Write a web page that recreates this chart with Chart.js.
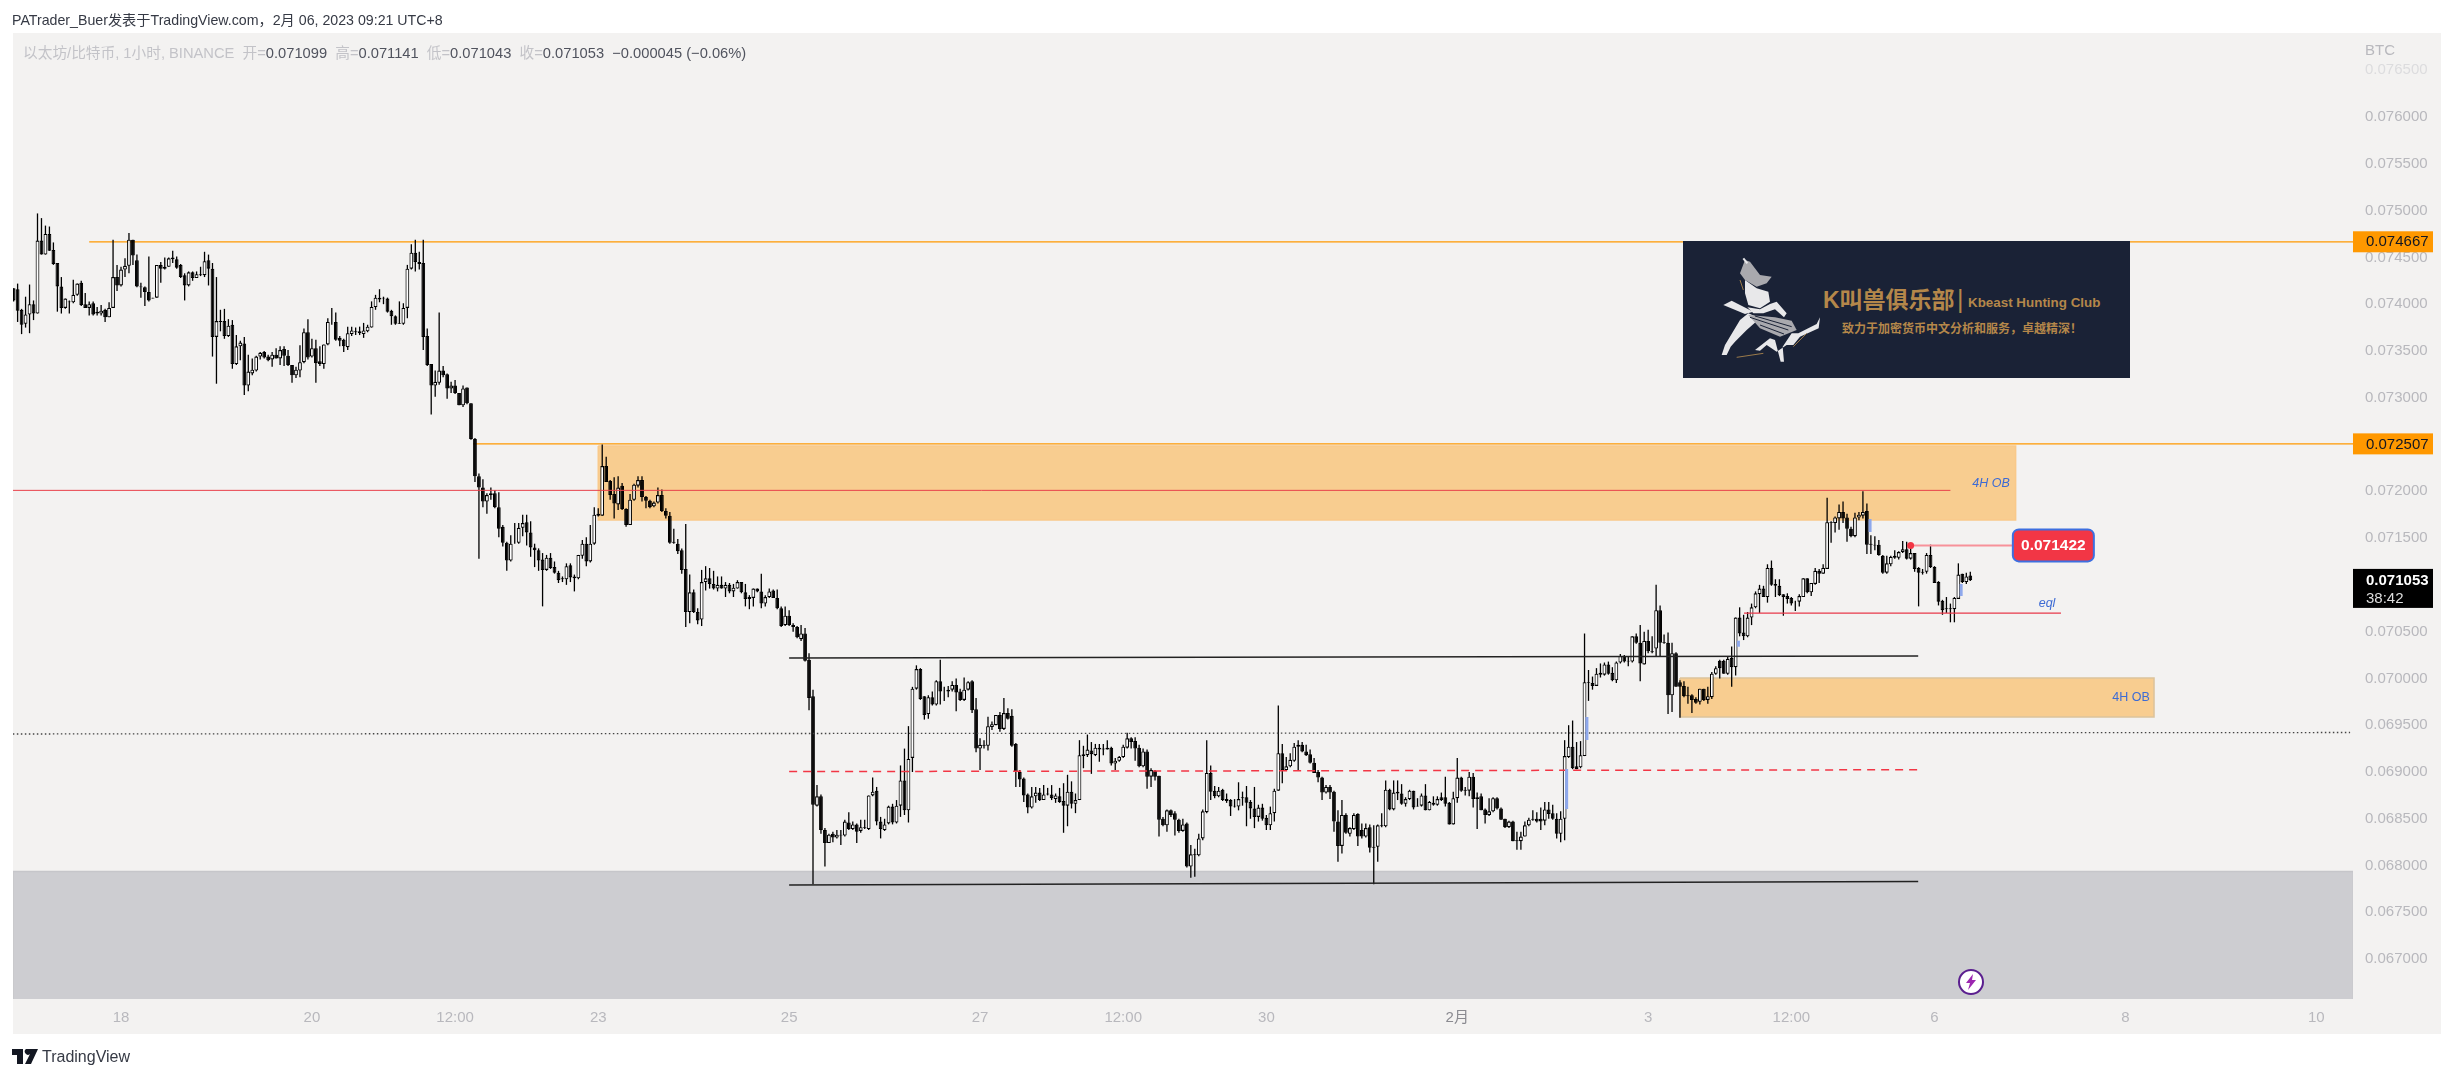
<!DOCTYPE html>
<html lang="zh"><head><meta charset="utf-8"><title>ETHBTC</title>
<script src="https://cdn.jsdelivr.net/npm/chart.js@4/dist/chart.umd.min.js"></script>
<style>
html,body{margin:0;padding:0;background:#fff;width:2453px;height:1078px;overflow:hidden;font-family:"Liberation Sans","Noto Sans CJK SC",sans-serif}
canvas{position:absolute;left:0;top:0}
.t{position:absolute;white-space:pre;line-height:1}
#banner{position:absolute;left:1683px;top:241px;width:447px;height:137px;background:#1a2236;color:#b4874a;font-weight:700}
#banner div{position:absolute;white-space:pre;line-height:1}
</style></head><body>
<canvas id="c" width="2453" height="1078"></canvas>
<div class="t" style="left:12px;top:12.5px;font-size:14.2px;color:#363a45">PATrader_Buer发表于TradingView.com，2月 06, 2023 09:21 UTC+8</div>
<div class="t" style="left:23px;top:46px;font-size:14.7px;color:#c3c3c8">以太坊/比特币, 1小时, BINANCE  开=<span style="color:#50535e">0.071099</span>  高=<span style="color:#50535e">0.071141</span>  低=<span style="color:#50535e">0.071043</span>  收=<span style="color:#50535e">0.071053</span>  <span style="color:#50535e">−0.000045 (−0.06%)</span></div>
<div id="banner">
<svg width="447" height="137" viewBox="69 33 1341 411" style="position:absolute;left:0;top:0">
<g fill="#e8e8ea">
<polygon points="255,150 290,175 325,185 330,215 300,235 265,225 255,190"/>
<polygon points="262,232 300,238 330,222 350,215 380,250 372,262 345,238 310,250 280,250"/>
<polygon points="195,345 240,270 265,250 300,265 260,300 225,335 212,350 200,375 185,375"/>
<polygon points="285,360 330,325 345,330 362,395 372,395 368,350 395,310 415,310 470,282 480,262 476,295 420,320 400,345 380,345 350,365 320,345 300,362"/>
<polygon points="190,225 215,212 280,245 255,252"/>
</g>
<g fill="#a9a9ae">
<polygon points="240,130 255,90 270,95 300,135 335,140 320,160 290,170 255,150"/>
<polygon points="265,255 345,262 395,272 410,300 360,320 300,295"/>
</g>
<g stroke="#1a2236" stroke-width="3" fill="none"><path d="M270 262 L385 300 M285 258 L395 290 M300 285 L372 312"/></g>
<g stroke="#9a7a4a" stroke-width="3" fill="none"><path d="M230 382 L310 370 M240 150 L250 180 M400 350 L440 310"/></g>
<path d="M250 85 L262 100" stroke="#e8e8ea" stroke-width="6"/>
</svg>
<div style="left:140px;top:48px;font-size:23px">K叫兽俱乐部</div>
<div style="left:274px;top:46px;font-size:25px;font-weight:400">|</div>
<div style="left:285px;top:55px;font-size:13.4px">Kbeast Hunting Club</div>
<div style="left:159px;top:82px;font-size:12px">致力于加密货币中文分析和服务，卓越精深！</div>
</div>
<svg style="position:absolute;left:1957px;top:968px" width="28" height="28" viewBox="0 0 28 28"><circle cx="14" cy="14" r="12" fill="#fff" stroke="#5b1f8f" stroke-width="2"/><path d="M16 6 L9 15 H13 L11 22 L19 12 H15 Z" fill="#9c27b0"/></svg>
<svg style="position:absolute;left:12px;top:1049px" width="26" height="15" viewBox="0 0 26 15"><path d="M0 0H11V15H5V6H0Z M14 0 H26 L19 15 H13 L18 5 A2.6 2.6 0 1 1 14 0Z" fill="#131722"/></svg>
<div class="t" style="left:42px;top:1048.5px;font-size:16px;color:#363a45">TradingView</div>
<script>
// Prices are in units of 0.00001 BTC; one candle per hour from Jan 16 21:00 (UTC+8)
const PRICE_UNIT = 1e-5;
const FIRST_HOUR = -27; // hours relative to Jan 18 00:00
const opens = [
7417,7416,7394,7379,7389,7400,7390,7468,7453,7475,
7458,7444,7419,7396,7403,7402,7410,7423,7400,7396,
7401,7392,7390,7394,7386,7396,7429,7420,7437,7441,
7469,7447,7419,7418,7413,7407,7407,7442,7438,7440,
7450,7448,7442,7431,7420,7434,7428,7432,7431,7447,
7438,7365,7382,7382,7366,7378,7336,7355,7358,7313,
7326,7329,7344,7349,7344,7341,7346,7342,7352,7345,
7335,7324,7329,7338,7370,7344,7353,7339,7336,7357,
7381,7381,7364,7362,7354,7368,7371,7371,7368,7371,
7375,7397,7407,7407,7406,7393,7387,7380,7379,7396,
7438,7455,7445,7444,7366,7336,7313,7316,7329,7325,
7310,7313,7305,7292,7311,7294,7256,7216,7204,7189,
7198,7198,7183,7162,7145,7126,7145,7145,7161,7167,
7156,7140,7137,7127,7116,7129,7119,7113,7107,7106,
7121,7109,7107,7131,7144,7125,7144,7176,7174,7227,
7211,7197,7186,7206,7181,7164,7191,7206,7212,7194,
7190,7184,7188,7196,7179,7174,7146,7144,7137,7117,
7071,7092,7071,7063,7103,7107,7101,7096,7100,7096,
7100,7093,7096,7103,7092,7087,7086,7096,7093,7080,
7087,7094,7086,7075,7057,7067,7057,7055,7042,7048,
7020,6981,6864,6874,6838,6824,6834,6830,6833,6832,
6846,6839,6844,6837,6841,6839,6875,6880,6847,6838,
6845,6863,6846,6864,6891,6859,6915,6989,7010,6981,
6962,6980,6972,6997,6986,6986,6988,6993,6986,6977,
6988,6997,6967,6925,6929,6928,6948,6950,6961,6946,
6963,6960,6930,6900,6893,6876,6862,6874,6878,6870,
6877,6876,6871,6874,6869,6864,6879,6866,6870,6919,
6918,6923,6918,6926,6925,6924,6926,6909,6912,6916,
6926,6936,6933,6926,6906,6922,6895,6901,6896,6850,
6843,6859,6856,6849,6837,6845,6799,6812,6811,6829,
6857,6899,6880,6874,6881,6871,6870,6864,6863,6873,
6873,6868,6861,6852,6862,6851,6843,6856,6880,6920,
6902,6906,6912,6927,6929,6922,6919,6910,6900,6894,
6878,6884,6879,6847,6821,6854,6834,6839,6855,6838,
6831,6841,6820,6820,6842,6842,6881,6860,6879,6877,
6866,6871,6880,6864,6864,6875,6859,6867,6865,6873,
6873,6867,6844,6872,6894,6881,6880,6895,6873,6874,
6860,6854,6858,6872,6861,6850,6841,6847,6827,6826,
6831,6843,6850,6850,6850,6848,6860,6856,6850,6834,
6850,6916,6927,6906,6905,6917,6996,6995,6992,7006,
7004,7015,7006,6998,7017,7024,7018,7018,7045,7038,
7015,7040,7029,7032,7073,7039,7038,6982,7027,6996,
6992,6982,6982,6978,6975,6989,6977,6980,7005,7019,
7019,7005,7022,7012,7065,7049,7045,7065,7076,7090,
7096,7087,7118,7101,7099,7090,7088,7086,7082,7082,
7087,7107,7092,7101,7115,7112,7117,7167,7166,7171,
7178,7172,7160,7152,7172,7174,7179,7144,7143,7143,
7131,7113,7122,7131,7129,7135,7138,7128,7134,7118,
7114,7114,7132,7119,7103,7083,7075,7075,7074,7085,
7112,7103,7110];
const highs = [
7417,7422,7395,7408,7421,7404,7497,7492,7484,7483,
7466,7444,7429,7406,7404,7426,7422,7425,7412,7403,
7403,7397,7399,7395,7402,7469,7442,7440,7449,7476,
7469,7453,7423,7419,7451,7407,7442,7445,7450,7450,
7457,7451,7443,7433,7435,7435,7435,7440,7456,7453,
7444,7429,7394,7395,7384,7383,7367,7361,7365,7346,
7342,7345,7349,7350,7346,7349,7353,7355,7355,7351,
7335,7333,7356,7374,7384,7363,7362,7355,7357,7385,
7396,7391,7366,7363,7376,7376,7375,7376,7380,7378,
7403,7410,7416,7408,7407,7394,7388,7403,7401,7442,
7464,7469,7456,7469,7374,7336,7329,7391,7334,7326,
7317,7319,7305,7313,7311,7294,7257,7219,7213,7198,
7204,7201,7199,7164,7146,7153,7166,7166,7175,7175,
7168,7144,7139,7134,7132,7134,7125,7115,7109,7123,
7123,7111,7132,7148,7151,7164,7183,7182,7250,7237,
7212,7215,7216,7209,7182,7197,7208,7216,7216,7195,
7191,7189,7204,7202,7182,7178,7160,7149,7139,7165,
7111,7095,7075,7116,7120,7118,7115,7109,7109,7103,
7102,7101,7105,7103,7101,7089,7096,7096,7112,7089,
7096,7095,7095,7077,7077,7073,7059,7056,7057,7054,
7027,6988,6886,6876,6840,6834,6836,6838,6838,6849,
6857,6847,6845,6849,6849,6875,6894,6884,6852,6850,
6864,6866,6870,6907,6925,6949,6991,7014,7011,6981,
6982,6986,6998,7020,6991,6992,6997,7000,6989,7001,
6997,6998,6979,6936,6934,6959,6954,6961,6964,6979,
6968,6967,6931,6902,6894,6877,6884,6884,6883,6886,
6883,6886,6877,6883,6888,6897,6890,6877,6934,6928,
6940,6932,6930,6930,6930,6934,6927,6915,6917,6929,
6942,6937,6937,6929,6925,6924,6904,6902,6896,6852,
6860,6860,6858,6850,6850,6846,6822,6818,6834,6860,
6934,6907,6885,6884,6882,6877,6871,6871,6889,6879,
6885,6870,6884,6865,6866,6854,6863,6882,6971,6930,
6916,6920,6931,6934,6932,6929,6924,6915,6902,6895,
6886,6886,6880,6859,6870,6856,6841,6856,6856,6845,
6845,6844,6843,6844,6856,6891,6882,6891,6891,6887,
6873,6881,6880,6872,6877,6887,6869,6874,6874,6878,
6895,6868,6879,6915,6895,6884,6900,6899,6878,6877,
6861,6872,6873,6873,6862,6850,6848,6848,6836,6836,
6847,6851,6859,6857,6862,6868,6868,6865,6856,6858,
6934,6950,6955,6932,6933,7048,7009,7002,7011,7016,
7017,7018,7012,7018,7026,7025,7023,7045,7048,7057,
7050,7052,7045,7100,7078,7047,7049,7038,7028,6998,
6997,6991,6983,6980,6989,6989,6991,7007,7013,7020,
7020,7024,7034,7065,7076,7068,7071,7080,7093,7100,
7099,7122,7126,7106,7106,7090,7091,7087,7083,7090,
7107,7107,7102,7118,7117,7122,7193,7168,7173,7186,
7189,7176,7162,7177,7178,7200,7187,7153,7152,7148,
7132,7131,7131,7137,7136,7147,7146,7141,7134,7119,
7117,7134,7143,7120,7104,7084,7087,7080,7087,7123,
7112,7113,7114];
const lows = [
7403,7381,7368,7375,7369,7383,7390,7453,7453,7457,
7442,7392,7390,7395,7390,7401,7409,7398,7396,7388,
7388,7388,7388,7381,7386,7396,7414,7419,7429,7433,
7442,7418,7407,7398,7403,7406,7407,7423,7437,7440,
7444,7438,7428,7404,7419,7425,7428,7430,7429,7420,
7344,7315,7371,7363,7365,7331,7335,7340,7303,7307,
7324,7328,7341,7342,7339,7333,7342,7335,7334,7334,
7316,7321,7322,7337,7341,7343,7316,7334,7331,7356,
7378,7361,7355,7349,7351,7366,7367,7367,7364,7370,
7375,7394,7402,7400,7391,7378,7378,7379,7378,7385,
7437,7435,7437,7351,7334,7282,7301,7314,7322,7299,
7305,7304,7292,7290,7293,7255,7210,7128,7183,7176,
7191,7182,7151,7141,7115,7125,7144,7144,7152,7142,
7130,7119,7115,7077,7115,7117,7112,7102,7103,7100,
7103,7093,7106,7128,7120,7124,7143,7173,7174,7210,
7191,7171,7180,7180,7162,7164,7190,7204,7189,7182,
7182,7183,7187,7178,7171,7144,7144,7133,7112,7055,
7059,7070,7058,7056,7094,7096,7095,7093,7096,7087,
7091,7087,7096,7091,7077,7074,7077,7092,7075,7077,
7086,7086,7074,7055,7056,7056,7050,7043,7040,7018,
6966,6780,6863,6834,6799,6824,6825,6829,6822,6831,
6838,6838,6824,6835,6839,6838,6874,6843,6829,6837,
6844,6844,6845,6852,6854,6846,6900,6988,6977,6956,
6957,6971,6971,6972,6976,6980,6986,6965,6976,6976,
6987,6963,6921,6902,6925,6923,6945,6950,6943,6945,
6956,6927,6884,6884,6868,6856,6861,6867,6869,6870,
6875,6870,6867,6867,6835,6842,6861,6856,6870,6904,
6916,6898,6917,6911,6918,6924,6907,6902,6911,6915,
6925,6925,6912,6905,6905,6882,6884,6891,6831,6842,
6836,6852,6832,6835,6836,6798,6787,6788,6810,6827,
6856,6870,6872,6873,6869,6867,6853,6862,6859,6864,
6842,6850,6840,6847,6848,6838,6838,6847,6880,6888,
6901,6905,6911,6902,6921,6917,6909,6899,6889,6870,
6877,6871,6836,6804,6813,6834,6831,6838,6821,6829,
6830,6814,6780,6804,6841,6841,6859,6859,6870,6865,
6863,6870,6860,6863,6863,6859,6859,6864,6864,6869,
6863,6844,6844,6867,6879,6875,6874,6862,6839,6859,
6845,6853,6857,6860,6849,6840,6840,6826,6817,6817,
6831,6842,6848,6846,6838,6843,6850,6849,6829,6825,
6827,6915,6903,6903,6904,6917,6976,6988,6992,7001,
7003,7004,6997,6995,7016,7017,7013,7017,7037,6997,
7015,7027,7027,7024,7024,7037,6962,6964,6991,6958,
6980,6973,6963,6973,6972,6976,6973,6978,7004,7000,
7005,7004,6991,7003,7045,7041,7044,7057,7075,7070,
7087,7081,7099,7087,7088,7067,7080,7078,7072,7077,
7087,7091,7088,7100,7102,7112,7117,7145,7156,7159,
7166,7146,7151,7151,7169,7171,7133,7133,7137,7131,
7112,7112,7120,7128,7127,7134,7127,7127,7114,7077,
7111,7112,7118,7102,7078,7068,7070,7060,7060,7085,
7102,7101,7104];
const closes = [
7404,7393,7378,7389,7400,7390,7468,7453,7475,7457,
7443,7419,7396,7406,7402,7410,7422,7399,7396,7400,
7389,7390,7393,7386,7396,7429,7420,7437,7441,7469,
7452,7419,7418,7413,7404,7406,7442,7438,7440,7449,
7448,7439,7429,7420,7434,7428,7432,7431,7446,7438,
7365,7382,7381,7366,7377,7336,7355,7359,7313,7328,
7330,7344,7348,7343,7340,7346,7342,7351,7345,7335,
7324,7330,7338,7370,7343,7353,7337,7336,7357,7381,
7381,7362,7361,7355,7369,7372,7370,7369,7372,7376,
7397,7407,7405,7406,7392,7387,7379,7379,7396,7438,
7455,7445,7443,7365,7335,7313,7317,7329,7324,7310,
7313,7305,7292,7310,7294,7256,7216,7204,7189,7196,
7196,7183,7160,7145,7126,7144,7145,7161,7166,7156,
7140,7137,7126,7116,7129,7118,7113,7105,7106,7120,
7108,7107,7132,7144,7125,7144,7175,7174,7227,7210,
7196,7187,7204,7181,7164,7191,7207,7212,7194,7190,
7183,7188,7196,7179,7174,7145,7145,7136,7116,7071,
7092,7071,7062,7103,7107,7101,7096,7100,7096,7100,
7093,7097,7103,7092,7085,7085,7096,7093,7080,7087,
7093,7086,7075,7056,7067,7057,7055,7044,7048,7019,
6979,6865,6874,6838,6824,6833,6830,6833,6832,6847,
6839,6844,6836,6841,6840,6875,6879,6847,6839,6844,
6863,6846,6864,6891,6859,6914,6989,7010,6978,6961,
6980,6972,6997,6986,6986,6988,6993,6985,6977,6988,
6996,6966,6925,6929,6928,6949,6951,6961,6946,6963,
6957,6928,6900,6892,6875,6862,6874,6878,6870,6876,
6876,6872,6875,6868,6864,6879,6866,6870,6918,6917,
6924,6919,6926,6924,6924,6926,6909,6912,6916,6927,
6936,6932,6925,6906,6922,6895,6902,6895,6849,6843,
6859,6854,6849,6837,6844,6799,6812,6811,6829,6858,
6899,6879,6874,6880,6870,6869,6863,6863,6871,6872,
6867,6861,6852,6862,6850,6843,6856,6880,6920,6902,
6906,6913,6927,6929,6922,6918,6910,6899,6894,6878,
6884,6878,6847,6821,6854,6835,6840,6854,6831,6831,
6840,6819,6819,6843,6843,6881,6860,6878,6877,6866,
6871,6880,6862,6863,6875,6859,6868,6865,6871,6870,
6866,6844,6872,6894,6880,6880,6895,6871,6871,6859,
6854,6858,6872,6861,6849,6841,6847,6826,6826,6831,
6843,6849,6849,6847,6847,6860,6855,6850,6834,6850,
6917,6927,6904,6903,6918,6996,6995,6992,7005,7004,
7015,7005,6998,7017,7024,7018,7019,7045,7038,7016,
7040,7029,7028,7073,7038,7038,6982,7027,6991,6991,
6981,6981,6977,6974,6989,6977,6981,7005,7011,7011,
7005,7021,7012,7065,7048,7045,7065,7076,7091,7096,
7087,7118,7100,7099,7089,7087,7085,7080,7082,7088,
7107,7092,7102,7115,7112,7118,7167,7166,7172,7178,
7171,7160,7152,7172,7175,7178,7143,7143,7142,7132,
7113,7123,7130,7129,7135,7138,7128,7134,7117,7113,
7113,7132,7119,7102,7082,7073,7074,7074,7086,7111,
7103,7109,7105];

const priceTicks = [0.0765,0.076,0.0755,0.075,0.0745,0.074,0.0735,0.073,0.0725,0.072,0.0715,0.071,0.0705,0.07,0.0695,0.069,0.0685,0.068,0.0675,0.067];
const timeTickHours = [0,48,84,120,168,216,252,288,336,384,420,456,504,552];
const timeTickLabels = ['18','20','12:00','23','25','27','12:00','30','2月','3','12:00','6','8','10'];

// Drawn levels: hour ranges and prices
const resistanceHigh = {hours:[-8,561.3], prices:[0.074667,0.074667]};
const resistanceLow  = {hours:[88.5,561.3], prices:[0.072507,0.072507]};
const redLevel       = {hours:[-27.2,460], prices:[0.07201,0.07201]};
const rangeTop       = {hours:[168,451.9], prices:[0.070218,0.07024]};
const rangeMid       = {hours:[168,451.9], prices:[0.069004,0.069024]};
const rangeBottom    = {hours:[168,451.9], prices:[0.067792,0.067829]};
const dottedLevel    = {hours:[-27.2,560.5], prices:[0.069406,0.069422]};
const eqlLevel       = {hours:[408.1,487.8], prices:[0.070699,0.070699]};
const pinkLevel      = {hours:[450,475.7], prices:[0.071422,0.071422]};
const upperOB  = {hours:[120,476.4], prices:[0.072484,0.071693]};
const lowerOB  = {hours:[392,511.2], prices:[0.070005,0.069588]};
const grayZone = {hours:[-27.2,561.3], prices:[0.067936,0.0665]};
const blueMarkHours = [363.5,368.6,406.7,439.8,462.7];
const blueMarkTops  = [0.069032,0.069588,0.070403,0.071704,0.071009];
const blueMarkLows  = [0.068604,0.069342,0.070339,0.071565,0.070881];

const candleHours = closes.map((_, i) => FIRST_HOUR + i);
const px = v => v * PRICE_UNIT;
const seg = s => s.hours.map((h, i) => ({x: h, y: s.prices[i]}));
const box = s => [{x:s.hours[0],y:s.prices[0]},{x:s.hours[1],y:s.prices[0]},{x:s.hours[1],y:s.prices[1]},{x:s.hours[0],y:s.prices[1]},{x:s.hours[0],y:s.prices[0]}];
const line = (s, color, width, dash, order) => ({type:'line', data:seg(s), borderColor:color, borderWidth:width, borderDash:dash||[], pointRadius:0, order:order||1, tension:0, fill:false});
const zone = (s, fillC, edge, order) => ({type:'line', data:box(s), backgroundColor:fillC, borderColor:edge, borderWidth:1.5, pointRadius:0, fill:'shape', order:order, tension:0});

const overlay = {
  id:'overlay',
  beforeDraw(ch){
    const c = ch.ctx; c.save();
    c.fillStyle='#fff'; c.fillRect(0,0,2453,1078);
    c.fillStyle='#f3f2f1'; c.fillRect(13,33,2428,1001);
    c.restore();
  },
  afterDraw(ch){
    const c = ch.ctx, ys = ch.scales.y, xs = ch.scales.x;
    c.save();
    c.textBaseline='middle';
    c.font='15px "Liberation Sans"'; c.fillStyle='#b8b8bd'; c.textAlign='left';
    c.fillText('BTC',2365,51);
    const tag=(price,text)=>{const y=ys.getPixelForValue(price);
      c.fillStyle='#ff9800'; c.fillRect(2353,y-10.5,80,21);
      c.fillStyle='#131722'; c.font='15px "Liberation Sans"'; c.textAlign='left'; c.fillText(text,2366,y+0.5);};
    tag(0.074667,'0.074667'); tag(0.072507,'0.072507');
    const ly=ys.getPixelForValue(0.071053);
    c.fillStyle='#000'; c.fillRect(2353,ly-11,80,39);
    c.fillStyle='#fff'; c.font='bold 15px "Liberation Sans"'; c.textAlign='left'; c.fillText('0.071053',2366,ly+1);
    c.fillStyle='#ddd'; c.font='15px "Liberation Sans"'; c.fillText('38:42',2366,ly+19);
    const hy=ys.getPixelForValue(0.071422), hx=xs.getPixelForValue(475.7);
    c.beginPath(); c.roundRect(hx,hy-16,81,32,6); c.fillStyle='#f23645'; c.fill();
    c.lineWidth=2; c.strokeStyle='#3d6fe0'; c.stroke();
    c.fillStyle='#fff'; c.font='bold 15.5px "Liberation Sans"'; c.textAlign='center'; c.fillText('0.071422',hx+40.5,hy+0.5);
    c.beginPath(); c.arc(xs.getPixelForValue(450),hy,3.5,0,7); c.fillStyle='#f23645'; c.fill();
    c.fillStyle='#3d6bd4';
    c.font='italic 12.5px "Liberation Sans"'; c.fillText('4H OB',xs.getPixelForValue(470.2),ys.getPixelForValue(0.072085));
    c.fillText('eql',xs.getPixelForValue(484.3),ys.getPixelForValue(0.070806));
    c.font='12.5px "Liberation Sans"'; c.fillText('4H OB',xs.getPixelForValue(505.4),ys.getPixelForValue(0.069795));
    c.restore();
  }
};

new Chart(document.getElementById('c'), {
  type:'bar',
  plugins:[overlay],
  data:{datasets:[
    zone(grayZone,'#cdcdd1','#c6c6ca',9),
    zone(upperOB,'#f8cd90','#f9c98a',8),
    zone(lowerOB,'#f8cd90','#dcc39c',8),
    line(resistanceHigh,'#ff9800',1.2,null,7),
    line(resistanceLow,'#ff9800',1.2,null,7),
    {type:'bar', data:candleHours.map((h,i)=>({x:h,y:[px(lows[i]),px(highs[i])]})), backgroundColor:'#000', borderWidth:0, barThickness:1.3, grouped:false, inflateAmount:0, order:4},
    {type:'bar', data:candleHours.map((h,i)=>({x:h,y:[px(Math.min(opens[i],closes[i])),px(Math.max(opens[i],closes[i]))]})),
      backgroundColor:closes.map((v,i)=>v>=opens[i]?'#ffffff':'#000000'), borderColor:'#000', borderWidth:1.1, borderSkipped:false, barThickness:3.8, grouped:false, inflateAmount:0, order:3},
    line(redLevel,'#e8404a',1,null,2),
    line(rangeTop,'#222',1.6,null,2),
    line(rangeBottom,'#222',1.6,null,2),
    line(rangeMid,'#f23645',1.5,[8,6],2),
    line(dottedLevel,'#444',1.3,[1.5,2.5],2),
    line(eqlLevel,'#e8394a',1.2,null,2),
    line(pinkLevel,'#f7919a',2,null,2),
    {type:'bar', data:blueMarkHours.map((h,i)=>({x:h,y:[blueMarkLows[i],blueMarkTops[i]]})), backgroundColor:'#8ea8ec', borderWidth:0, barThickness:3, grouped:false, inflateAmount:0, order:0}
  ]},
  options:{
    responsive:false, animation:false, devicePixelRatio:1,
    layout:{padding:{left:13,top:33,right:12,bottom:44}},
    plugins:{legend:{display:false},tooltip:{enabled:false},title:{display:false}},
    scales:{
      x:{type:'linear',min:-27.16,max:561.23,offset:false,
        grid:{display:false,drawTicks:false},border:{display:false},
        afterBuildTicks:s=>{s.ticks=timeTickHours.map(v=>({value:v}));},
        afterFit:s=>{s.height=35;},
        ticks:{autoSkip:false,maxRotation:0,padding:10,
          color:c=>timeTickLabels[timeTickHours.indexOf(c.tick.value)]==='2月'?'#8a8a90':'#b8b8bd',
          font:{family:'"Liberation Sans","Noto Sans CJK SC"',size:15},
          callback:v=>timeTickLabels[timeTickHours.indexOf(v)]}},
      y:{type:'linear',position:'right',min:0.0665736,max:0.0768985,
        grid:{display:false,drawTicks:false},border:{display:false},
        afterBuildTicks:s=>{s.ticks=priceTicks.map(v=>({value:v}));},
        afterFit:s=>{s.width=88;},
        ticks:{autoSkip:false,padding:12,
          color:c=>c.tick.value===0.0765?'#dcdcde':'#b8b8bd',
          font:{family:'"Liberation Sans"',size:15},
          callback:v=>v.toFixed(6)}}
    }
  }
});
</script>
</body></html>
